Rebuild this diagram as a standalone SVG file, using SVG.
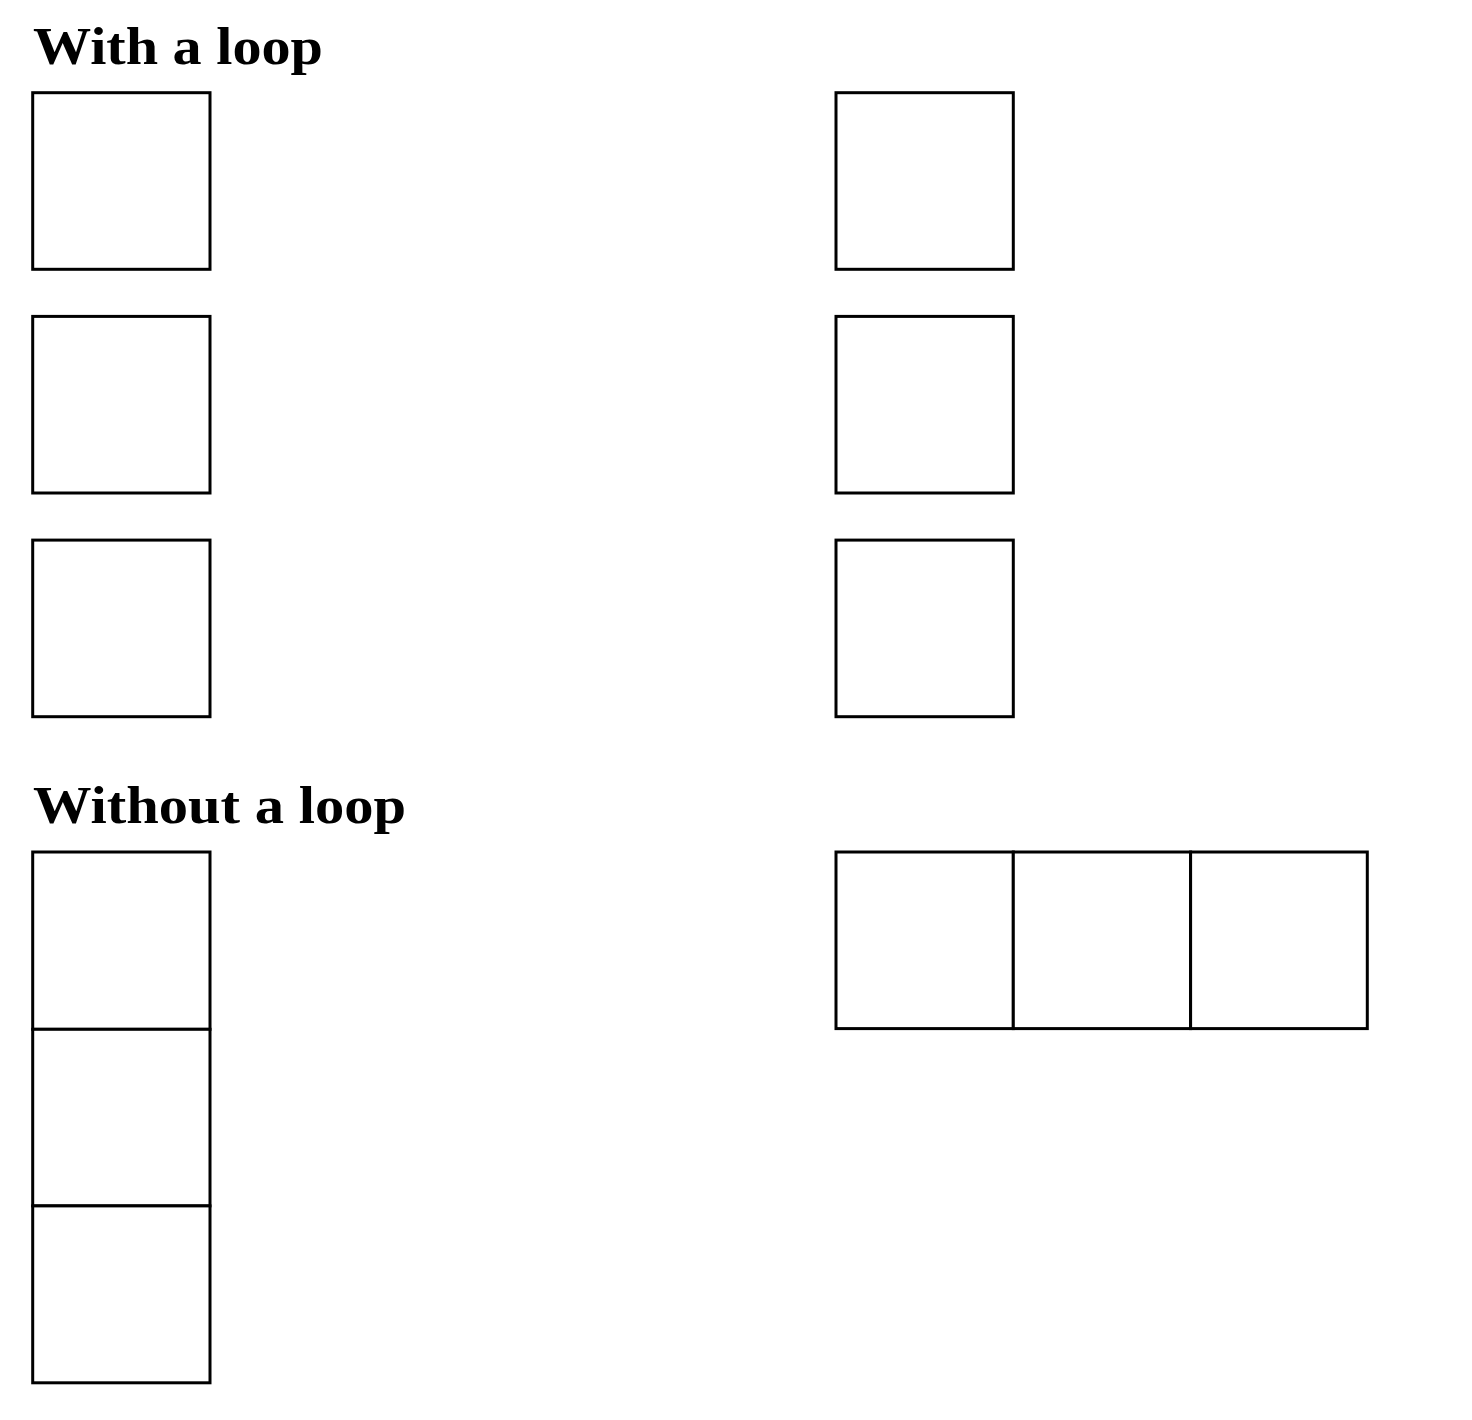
<svg xmlns="http://www.w3.org/2000/svg" width="1472" height="1420" viewBox="0 0 1472 1420">
<style>
.box{fill:#fff;stroke:#000;stroke-width:3}
.title{font-family:"Liberation Serif","DejaVu Serif",serif;font-weight:bold;font-size:52px;fill:#000}
</style>
<rect width="1472" height="1420" fill="#fff"/>
<text class="title" x="33" y="64" textLength="290" lengthAdjust="spacingAndGlyphs">With a loop</text>
<text class="title" x="33" y="823" textLength="373" lengthAdjust="spacingAndGlyphs">Without a loop</text>
<g id="loop-left-1"><rect class="box" x="32.7" y="92.7" width="177.3" height="176.6"/></g>
<g id="loop-left-2"><rect class="box" x="32.7" y="316.4" width="177.3" height="176.6"/></g>
<g id="loop-left-3"><rect class="box" x="32.7" y="540.1" width="177.3" height="176.6"/></g>
<g id="loop-right-1"><rect class="box" x="836" y="92.7" width="177.3" height="176.6"/></g>
<g id="loop-right-2"><rect class="box" x="836" y="316.4" width="177.3" height="176.6"/></g>
<g id="loop-right-3"><rect class="box" x="836" y="540.1" width="177.3" height="176.6"/></g>
<g id="noloop-col-1"><rect class="box" x="32.7" y="852" width="177.3" height="177.3"/></g>
<g id="noloop-col-2"><rect class="box" x="32.7" y="1029.3" width="177.3" height="176.6"/></g>
<g id="noloop-col-3"><rect class="box" x="32.7" y="1205.9" width="177.3" height="176.9"/></g>
<g id="noloop-row-1"><rect class="box" x="836" y="852" width="177.3" height="176.6"/></g>
<g id="noloop-row-2"><rect class="box" x="1013.3" y="852" width="177.3" height="176.6"/></g>
<g id="noloop-row-3"><rect class="box" x="1190.6" y="852" width="176.7" height="176.6"/></g>
<g id="connectors"></g>
</svg>
